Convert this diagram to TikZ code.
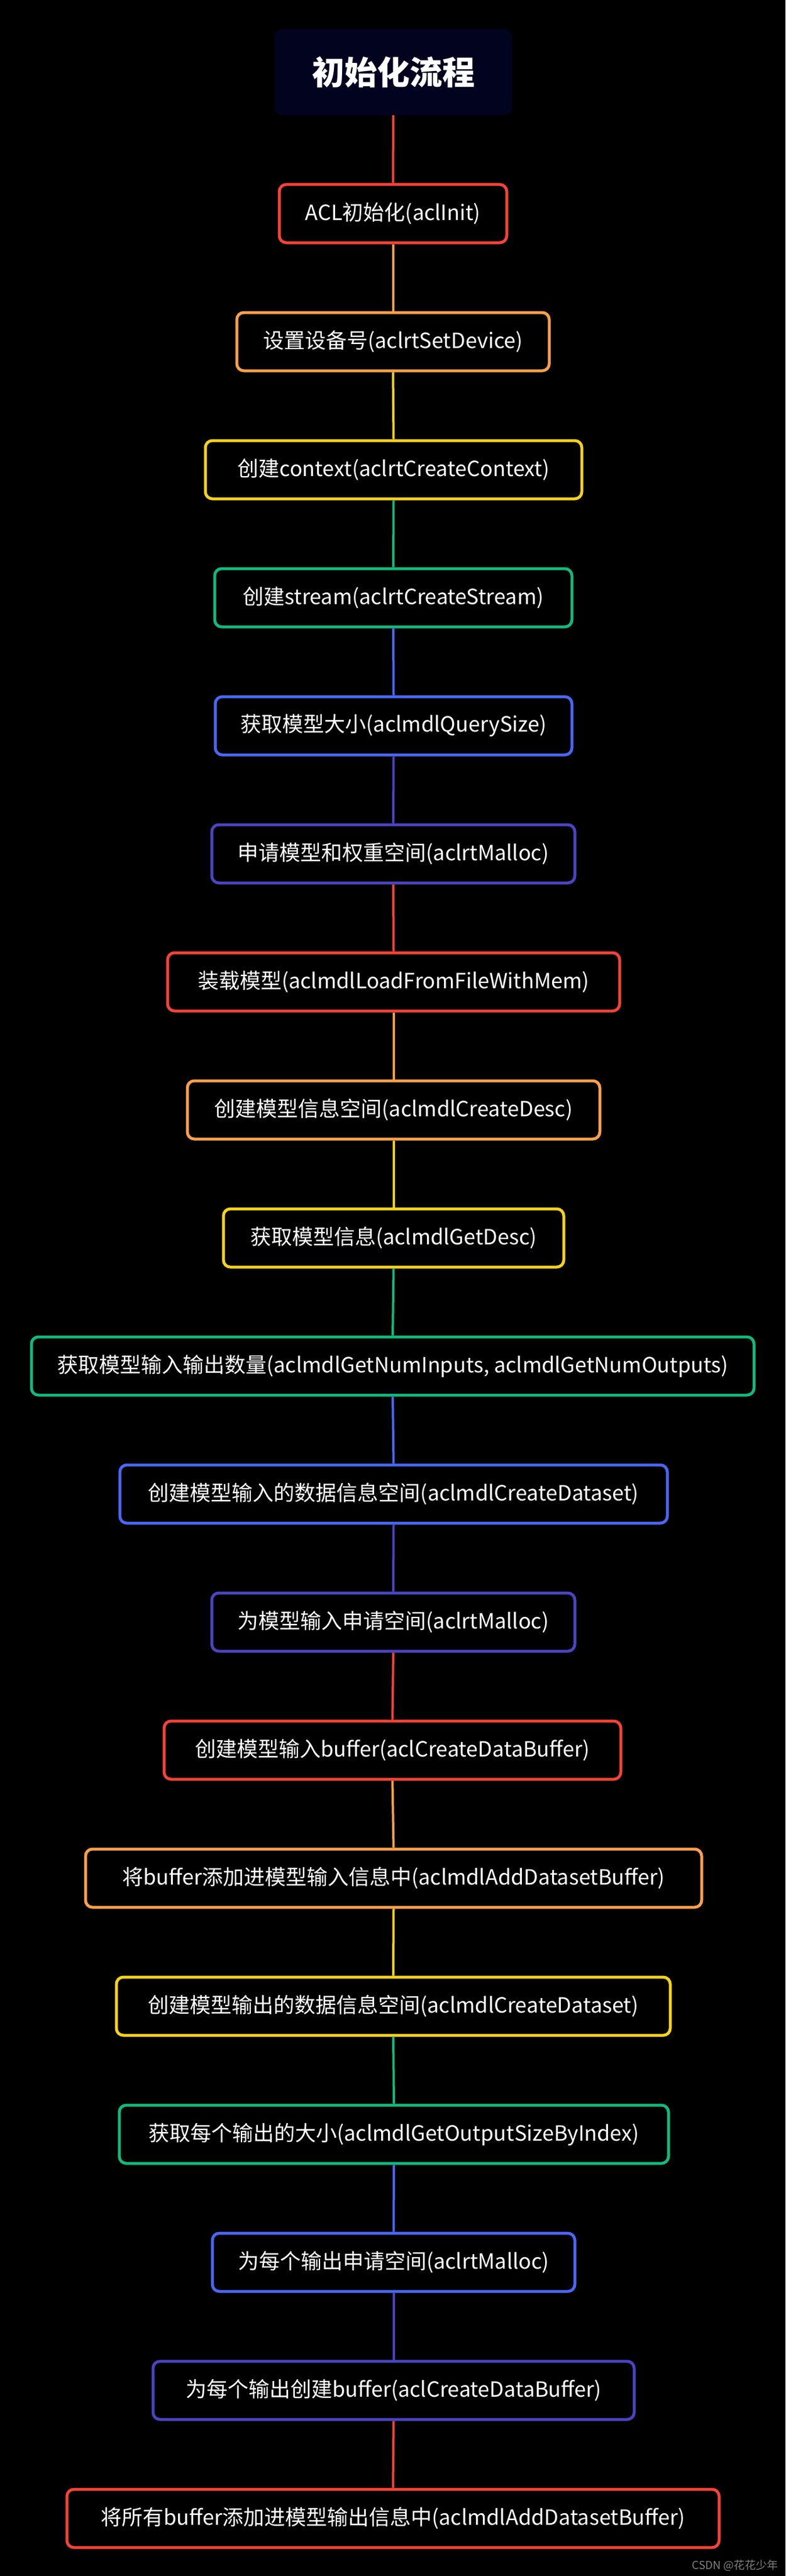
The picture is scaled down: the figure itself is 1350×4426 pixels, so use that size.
\documentclass[tikz,border=0pt]{standalone}
\usepackage{fontspec}
\setmainfont{Noto Sans CJK SC}
\definecolor{cR}{HTML}{F44336}
\definecolor{cO}{HTML}{F9A04B}
\definecolor{cY}{HTML}{F5D21C}
\definecolor{cG}{HTML}{12B97C}
\definecolor{cB}{HTML}{4A67F4}
\definecolor{cI}{HTML}{4B44C2}
\definecolor{ttl}{HTML}{02031F}
\begin{document}
\begin{tikzpicture}[x=1pt,y=-1pt,
 stepbox/.style={draw=#1,line width=5pt,rounded corners=12pt,text=white,font=\fontsize{36}{40}\selectfont,minimum height=100pt,inner sep=0pt},
 link/.style={draw=#1,line width=4pt}]
\fill[black] (0,0) rectangle (1350,4426);
\useasboundingbox (0,0) rectangle (1350,4426);
\node[fill=ttl,rounded corners=14pt,minimum width=408pt,minimum height=148pt,text=white,font=\fontsize{56}{60}\selectfont\bfseries] (t) at (676,124) {初始化流程};
\newcommand{\bx}[6]{\node[stepbox=#5,minimum width=#3-#2] (#1) at ({(#2+#3)/2},{367+220*#4}) {#6};}
\bx{b1}{480}{871}{0}{cR}{ACL初始化(aclInit)}
\bx{b2}{407}{944}{1}{cO}{设置设备号(aclrtSetDevice)}
\bx{b3}{353}{1000}{2}{cY}{创建context(aclrtCreateContext)}
\bx{b4}{369}{983}{3}{cG}{创建stream(aclrtCreateStream)}
\bx{b5}{370}{983}{4}{cB}{获取模型大小(aclmdlQuerySize)}
\bx{b6}{364}{988}{5}{cI}{申请模型和权重空间(aclrtMalloc)}
\bx{b7}{288}{1065}{6}{cR}{装载模型(aclmdlLoadFromFileWithMem)}
\bx{b8}{322}{1031}{7}{cO}{创建模型信息空间(aclmdlCreateDesc)}
\bx{b9}{384}{969}{8}{cY}{获取模型信息(aclmdlGetDesc)}
\bx{b10}{54}{1296}{9}{cG}{获取模型输入输出数量(aclmdlGetNumInputs, aclmdlGetNumOutputs)}
\bx{b11}{206}{1147}{10}{cB}{创建模型输入的数据信息空间(aclmdlCreateDataset)}
\bx{b12}{364}{988}{11}{cI}{为模型输入申请空间(aclrtMalloc)}
\bx{b13}{282}{1067}{12}{cR}{创建模型输入buffer(aclCreateDataBuffer)}
\bx{b14}{147}{1206}{13}{cO}{将buffer添加进模型输入信息中(aclmdlAddDatasetBuffer)}
\bx{b15}{200}{1152}{14}{cY}{创建模型输出的数据信息空间(aclmdlCreateDataset)}
\bx{b16}{205}{1149}{15}{cG}{获取每个输出的大小(aclmdlGetOutputSizeByIndex)}
\bx{b17}{365}{988}{16}{cB}{为每个输出申请空间(aclrtMalloc)}
\bx{b18}{263}{1090}{17}{cI}{为每个输出创建buffer(aclCreateDataBuffer)}
\bx{b19}{115}{1236}{18}{cR}{将所有buffer添加进模型输出信息中(aclmdlAddDatasetBuffer)}
\draw[link=cR] (t.south) -- (b1.north);
\foreach \a/\b/\c in {1/2/cO,2/3/cY,3/4/cG,4/5/cB,5/6/cI,6/7/cR,7/8/cO,8/9/cY,9/10/cG,10/11/cB,11/12/cI,12/13/cR,13/14/cO,14/15/cY,15/16/cG,16/17/cB,17/18/cI,18/19/cR}
  \draw[link=\c] (b\a.south) -- (b\b.north);
\node[anchor=south east,text=gray,font=\fontsize{19}{20}\selectfont,inner sep=0pt] (wm) at (1338,4418) {CSDN @花花少年};
\end{tikzpicture}
\end{document}
